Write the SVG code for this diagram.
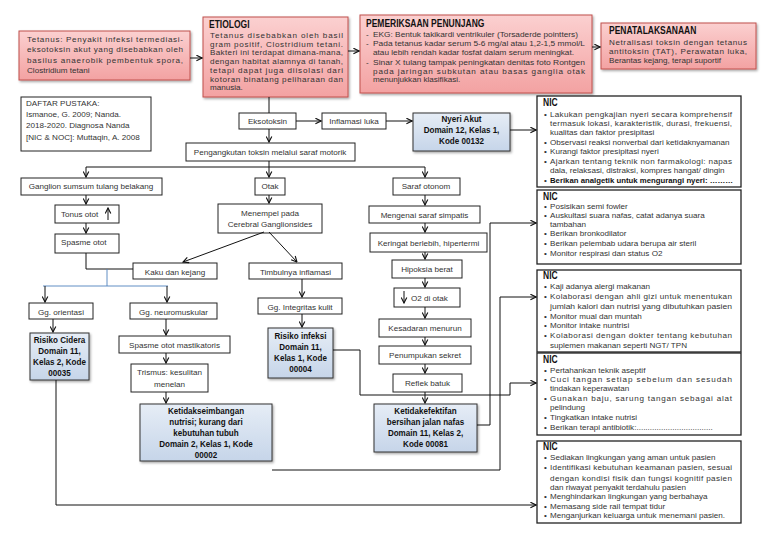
<svg xmlns="http://www.w3.org/2000/svg" width="768" height="543" viewBox="0 0 768 543">
<defs>
<linearGradient id="pk" x1="0" y1="0" x2="0" y2="1"><stop offset="0" stop-color="#fbd0d0"/><stop offset="1" stop-color="#f3a2a2"/></linearGradient>
<linearGradient id="bl" x1="0" y1="0" x2="0" y2="1"><stop offset="0" stop-color="#e6edf6"/><stop offset="1" stop-color="#c6d5e9"/></linearGradient>
<filter id="sh" x="-10%" y="-10%" width="125%" height="130%"><feDropShadow dx="1.2" dy="1.5" stdDeviation="1" flood-color="#000" flood-opacity="0.35"/></filter>
<marker id="a" viewBox="0 0 10 10" refX="9" refY="5" markerWidth="7" markerHeight="7" orient="auto" markerUnits="userSpaceOnUse"><path d="M1,1 L9,5 L1,9" fill="none" stroke="#111" stroke-width="1.6"/></marker>
</defs>
<style>
text{font-family:"Liberation Sans",Arial,sans-serif;fill:#333;font-size:8.1px}
.c{text-anchor:middle}
.h{font-weight:bold;font-size:10px;fill:#111}
.b{font-weight:bold;font-size:9.6px;fill:#111;text-anchor:middle}
.pk{fill:url(#pk);stroke:#c0504d;stroke-width:1;filter:url(#sh)}
.bx{fill:url(#bl);stroke:#333;stroke-width:1;filter:url(#sh)}
.w{fill:#fff;stroke:#222;stroke-width:1}
.n{fill:#fff;stroke:#222;stroke-width:1.3}
.ln{fill:none;stroke:#111;stroke-width:1}
.ar{fill:none;stroke:#111;stroke-width:1;marker-end:url(#a)}
.blu{fill:none;stroke:#4f81bd;stroke-width:0.9}
</style>
<rect width="768" height="543" fill="#fff"/>

<g id="tetanus">
<rect class="pk" x="19" y="31" width="171" height="49"/>
<text x="27" y="41.5" textLength="156" lengthAdjust="spacing">Tetanus: Penyakit infeksi termediasi-</text>
<text x="27" y="52" textLength="156" lengthAdjust="spacing">eksotoksin akut yang disebabkan oleh</text>
<text x="27" y="62.5" textLength="156" lengthAdjust="spacing">basilus anaerobik pembentuk spora,</text>
<text x="27" y="73">Clostridium tetani</text>
</g>

<g id="etiologi">
<rect class="pk" x="203" y="17" width="145" height="80"/>
<text class="h" transform="translate(209,28) scale(0.85,1)">ETIOLOGI</text>
<text x="210" y="38" textLength="133" lengthAdjust="spacing">Tetanus disebabkan oleh basil</text>
<text x="210" y="46.7" textLength="133" lengthAdjust="spacing">gram positif, Clostridium tetani.</text>
<text x="210" y="55.4" textLength="133" lengthAdjust="spacing">Bakteri ini terdapat dimana-mana,</text>
<text x="210" y="64.1" textLength="133" lengthAdjust="spacing">dengan habitat alamnya di tanah,</text>
<text x="210" y="72.8" textLength="133" lengthAdjust="spacing">tetapi dapat juga diisolasi dari</text>
<text x="210" y="81.5" textLength="133" lengthAdjust="spacing">kotoran binatang peliharaan dan</text>
<text x="210" y="90.2">manusia.</text>
</g>

<g id="pemeriksaan">
<rect class="pk" x="360" y="15" width="232" height="78"/>
<text class="h" transform="translate(366,27) scale(0.85,1)">PEMERIKSAAN PENUNJANG</text>
<text x="366" y="36.5">-</text>
<text x="373" y="36.5" textLength="205" lengthAdjust="spacingAndGlyphs">EKG: Bentuk takikardi ventrikuler (Torsaderde pointters)</text>
<text x="366" y="46">-</text>
<text x="373" y="46" textLength="212" lengthAdjust="spacingAndGlyphs">Pada tetanus kadar serum 5-6 mg/al atau 1,2-1,5 mmol/L</text>
<text x="373" y="54.5" textLength="201" lengthAdjust="spacingAndGlyphs">atau lebih rendah kadar fosfat dalam serum meningkat.</text>
<text x="366" y="65">-</text>
<text x="373" y="65" textLength="212" lengthAdjust="spacingAndGlyphs">Sinar X tulang tampak peningkatan denitas foto Rontgen</text>
<text x="373" y="73.5" textLength="212" lengthAdjust="spacing">pada jaringan subkutan atau basas ganglia otak</text>
<text x="373" y="82">menunjukkan klasifikasi.</text>
</g>

<g id="penatalaksanaan">
<rect class="pk" x="601" y="23" width="155" height="46"/>
<text class="h" transform="translate(609,34) scale(0.85,1)">PENATALAKSANAAN</text>
<text x="609" y="45" textLength="138" lengthAdjust="spacing">Netralisasi toksin dengan tetanus</text>
<text x="609" y="54" textLength="138" lengthAdjust="spacing">antitoksin (TAT), Perawatan luka,</text>
<text x="609" y="63">Berantas kejang, terapi suportif</text>
</g>

<g id="pustaka">
<rect class="w" x="21" y="97" width="130" height="54"/>
<text x="26" y="106">DAFTAR PUSTAKA:</text>
<text x="26" y="117">Ismanoe, G. 2009; Nanda.</text>
<text x="26" y="128">2018-2020. Diagnosa Nanda</text>
<text x="26" y="140">[NIC &amp; NOC]: Muttaqin, A. 2008</text>
</g>

<g id="eksotoksin"><rect class="w" x="239" y="113" width="57" height="16"/><text class="c" x="267.5" y="124">Eksotoksin</text></g>
<g id="inflamasi-luka"><rect class="w" x="322" y="113" width="64" height="16"/><text class="c" x="354" y="124">Inflamasi luka</text></g>
<g id="nyeri-akut"><rect class="bx" x="413" y="113" width="97" height="38"/>
<g transform="translate(461.5,0) scale(0.84,1)"><text class="b" x="0" y="122">Nyeri Akut</text><text class="b" x="0" y="133">Domain 12, Kelas 1,</text><text class="b" x="0" y="144">Kode 00132</text></g></g>
<g id="pengangkutan"><rect class="w" x="186" y="143" width="169" height="18"/><text class="c" x="270" y="155">Pengangkutan toksin melalui saraf motorik</text></g>

<g id="ganglion"><rect class="w" x="21" y="178" width="141" height="17"/><text class="c" x="91" y="189">Ganglion sumsum tulang belakang</text></g>
<g id="otak"><rect class="w" x="255" y="178" width="30" height="17"/><text class="c" x="270" y="189">Otak</text></g>
<g id="saraf-otonom"><rect class="w" x="393" y="178" width="67" height="17"/><text class="c" x="426" y="189">Saraf otonom</text></g>

<g id="tonus"><rect class="w" x="55" y="205" width="64" height="18"/><text x="61" y="216.5">Tonus otot</text><path class="ar" d="M108,220 L108,208"/></g>
<g id="spasme"><rect class="w" x="55" y="234" width="64" height="19"/><text x="61" y="244.5">Spasme otot</text></g>
<g id="menempel"><rect class="w" x="218" y="204" width="104" height="29"/><text class="c" x="270" y="215.5">Menempel pada</text><text class="c" x="270" y="227">Cerebral Ganglionsides</text></g>
<g id="kaku"><rect class="w" x="133" y="263" width="84" height="16"/><text class="c" x="175" y="274.5">Kaku dan kejang</text></g>
<g id="timbul"><rect class="w" x="249" y="263" width="93" height="16"/><text class="c" x="295.5" y="274.5">Timbulnya inflamasi</text></g>
<g id="gg-orientasi"><rect class="w" x="29" y="303" width="64" height="16"/><text class="c" x="61" y="314.5">Gg. orientasi</text></g>
<g id="gg-neuro"><rect class="w" x="130" y="303" width="87" height="16"/><text class="c" x="173.5" y="314.5">Gg. neuromuskular</text></g>
<g id="gg-integritas"><rect class="w" x="258" y="298" width="84" height="16"/><text class="c" x="300" y="309.5">Gg. Integritas kulit</text></g>

<g id="mengenai"><rect class="w" x="369" y="206" width="111" height="17"/><text class="c" x="424.5" y="217.5">Mengenai saraf simpatis</text></g>
<g id="keringat"><rect class="w" x="370" y="233" width="117" height="19"/><text class="c" x="428.5" y="245.5">Keringat berlebih, hipertermi</text></g>
<g id="hipoksia"><rect class="w" x="392" y="260" width="70" height="18"/><text class="c" x="427" y="272">Hipoksia berat</text></g>
<g id="o2"><rect class="w" x="394" y="288" width="66" height="19"/><path class="ar" d="M404,291 L404,303"/><text x="411" y="301">O2 di otak</text></g>
<g id="kesadaran"><rect class="w" x="379" y="319" width="92" height="18"/><text class="c" x="425" y="331">Kesadaran menurun</text></g>
<g id="penumpukan"><rect class="w" x="379" y="346" width="92" height="18"/><text class="c" x="425" y="358">Penumpukan sekret</text></g>
<g id="refleks"><rect class="w" x="393" y="374" width="69" height="18"/><text class="c" x="427.5" y="386">Reflek batuk</text></g>
<g id="ketidakefektifan"><rect class="bx" x="374" y="404" width="103" height="48"/>
<g transform="translate(425.5,0) scale(0.84,1)"><text class="b" x="0" y="414">Ketidakefektifan</text><text class="b" x="0" y="425">bersihan jalan nafas</text><text class="b" x="0" y="436">Domain 11, Kelas 2,</text><text class="b" x="0" y="447">Kode 00081</text></g></g>

<g id="risiko-cidera"><rect class="bx" x="30" y="333" width="59" height="47"/>
<g transform="translate(59.5,0) scale(0.84,1)"><text class="b" x="0" y="343">Risiko Cidera</text><text class="b" x="0" y="354">Domain 11,</text><text class="b" x="0" y="365">Kelas 2, Kode</text><text class="b" x="0" y="376">00035</text></g></g>
<g id="spasme-mastikatoris"><rect class="w" x="119" y="336" width="111" height="17"/><text class="c" x="174.5" y="347.5">Spasme otot mastikatoris</text></g>
<g id="trismus"><rect class="w" x="131" y="364" width="77" height="28"/><text class="c" x="169.5" y="375">Trismus: kesulitan</text><text class="c" x="169.5" y="387">menelan</text></g>
<g id="ketidakseimbangan"><rect class="bx" x="140" y="404" width="132" height="57"/>
<g transform="translate(206,0) scale(0.84,1)"><text class="b" x="0" y="414">Ketidakseimbangan</text><text class="b" x="0" y="425">nutrisi; kurang dari</text><text class="b" x="0" y="436">kebutuhan tubuh</text><text class="b" x="0" y="447">Domain 2, Kelas 1, Kode</text><text class="b" x="0" y="458">00002</text></g></g>
<g id="risiko-infeksi"><rect class="bx" x="268" y="328" width="65" height="50"/>
<g transform="translate(300.5,0) scale(0.84,1)"><text class="b" x="0" y="339">Risiko infeksi</text><text class="b" x="0" y="350">Domain 11,</text><text class="b" x="0" y="361">Kelas 1, Kode</text><text class="b" x="0" y="372">00004</text></g></g>

<g id="nic1"><rect class="n" x="537" y="96" width="204" height="91"/>
<text class="h" transform="translate(543,105.5) scale(0.85,1)">NIC</text>
<text x="544" y="116.5">•</text><text x="550" y="116.5" textLength="182" lengthAdjust="spacing">Lakukan pengkajian nyeri secara komprehensif</text>
<text x="550" y="125.5" textLength="182" lengthAdjust="spacing">termasuk lokasi, karakteristik, durasi, frekuensi,</text>
<text x="550" y="134.5">kualitas dan faktor presipitasi</text>
<text x="544" y="144.5">•</text><text x="550" y="144.5">Observasi reaksi nonverbal dari ketidaknyamanan</text>
<text x="544" y="153.5">•</text><text x="550" y="153.5">Kurangi faktor presipitasi nyeri</text>
<text x="544" y="163.5">•</text><text x="550" y="163.5" textLength="182" lengthAdjust="spacing">Ajarkan tentang teknik non farmakologi: napas</text>
<text x="550" y="172.5">dala, relaksasi, distraksi, kompres hangat/ dingin</text>
<text x="544" y="182.5">•</text><text x="550" y="182.5" style="font-weight:bold;fill:#111" textLength="183" lengthAdjust="spacingAndGlyphs">Berikan analgetik untuk mengurangi nyeri: ………</text>
</g>

<g id="nic2"><rect class="n" x="537" y="190" width="204" height="74"/>
<text class="h" transform="translate(543,199.5) scale(0.85,1)">NIC</text>
<text x="544" y="208.5">•</text><text x="550" y="208.5">Posisikan semi fowler</text>
<text x="544" y="217.5">•</text><text x="550" y="217.5">Auskultasi suara nafas, catat adanya suara</text>
<text x="550" y="226.5">tambahan</text>
<text x="544" y="236">•</text><text x="550" y="236">Berikan bronkodilator</text>
<text x="544" y="245.5">•</text><text x="550" y="245.5">Berikan pelembab udara berupa air steril</text>
<text x="544" y="255.5">•</text><text x="550" y="255.5">Monitor respirasi dan status O2</text>
</g>

<g id="nic3"><rect class="n" x="537" y="270" width="204" height="82"/>
<text class="h" transform="translate(543,279) scale(0.85,1)">NIC</text>
<text x="544" y="289">•</text><text x="550" y="289">Kaji adanya alergi makanan</text>
<text x="544" y="298.5">•</text><text x="550" y="298.5" textLength="182" lengthAdjust="spacing">Kolaborasi dengan ahli gizi untuk menentukan</text>
<text x="550" y="309" textLength="182" lengthAdjust="spacingAndGlyphs">jumlah kalori dan nutrisi yang dibutuhkan pasien</text>
<text x="544" y="318.5">•</text><text x="550" y="318.5">Monitor mual dan muntah</text>
<text x="544" y="328">•</text><text x="550" y="328">Monitor intake nuntrisi</text>
<text x="544" y="338">•</text><text x="550" y="338" textLength="182" lengthAdjust="spacing">Kolaborasi dengan dokter tentang kebutuhan</text>
<text x="550" y="347.5">suplemen makanan seperti NGT/ TPN</text>
</g>

<g id="nic4"><rect class="n" x="537" y="353" width="204" height="82"/>
<text class="h" transform="translate(543,362.5) scale(0.85,1)">NIC</text>
<text x="544" y="372.5">•</text><text x="550" y="372.5">Pertahankan teknik aseptif</text>
<text x="544" y="381.5">•</text><text x="550" y="381.5" textLength="182" lengthAdjust="spacing">Cuci tangan setiap sebelum dan sesudah</text>
<text x="550" y="391">tindakan keperawatan</text>
<text x="544" y="400.5">•</text><text x="550" y="400.5" textLength="182" lengthAdjust="spacing">Gunakan baju, sarung tangan sebagai alat</text>
<text x="550" y="410">pelindung</text>
<text x="544" y="419.5">•</text><text x="550" y="419.5">Tingkatkan intake nutrisi</text>
<text x="544" y="429.5">•</text><text x="550" y="429.5">Berikan terapi antibiotik:..................................</text>
</g>

<g id="nic5"><rect class="n" x="537" y="441" width="204" height="82"/>
<text class="h" transform="translate(543,449.5) scale(0.85,1)">NIC</text>
<text x="544" y="460">•</text><text x="550" y="460">Sediakan lingkungan yang aman untuk pasien</text>
<text x="544" y="469.5">•</text><text x="550" y="469.5" textLength="182" lengthAdjust="spacing">Identifikasi kebutuhan keamanan pasien, sesuai</text>
<text x="550" y="481" textLength="182" lengthAdjust="spacing">dengan kondisi fisik dan fungsi kognitif pasien</text>
<text x="550" y="490">dan riwayat penyakit terdahulu pasien</text>
<text x="544" y="499">•</text><text x="550" y="499">Menghindarkan lingkungan yang berbahaya</text>
<text x="544" y="508.5">•</text><text x="550" y="508.5">Memasang side rail tempat tidur</text>
<text x="544" y="518">•</text><text x="550" y="518">Menganjurkan keluarga untuk menemani pasien.</text>
</g>

<g id="connectors">
<path class="ar" d="M190,58 L202,58"/>
<path class="ar" d="M348,51 L359,51"/>
<path class="ar" d="M592,47 L600,47"/>
<path class="ln" d="M269,97 L269,113"/>
<path class="ar" d="M296,121 L321,121"/>
<path class="ar" d="M386,121 L412,121"/>
<path class="ar" d="M510,130 L536,130"/>
<path class="ar" d="M269,129 L269,142"/>
<path class="ln" d="M269,161 L269,167 M86,167 L425,167"/>
<path class="ar" d="M86,167 L86,177"/>
<path class="ar" d="M269,167 L269,177"/>
<path class="ar" d="M425,167 L425,177"/>
<path class="ar" d="M86,195 L86,204"/>
<path class="ar" d="M86,223 L86,233"/>
<path class="ln" d="M86,253 L86,269 L133,269"/>
<path class="blu" d="M107,269 L107,286 M43,286 L168,286"/>
<path class="ar" d="M45,286 L45,302"/>
<path class="ar" d="M167,286 L167,302"/>
<path class="ar" d="M269,195 L269,203"/>
<path class="ar" d="M264,232 L183,262"/>
<path class="ar" d="M269,232 L297,262"/>
<path class="ar" d="M302,279 L302,297"/>
<path class="ar" d="M302,314 L302,327"/>
<path class="ar" d="M53,319 L53,332"/>
<path class="ar" d="M166,319 L166,335"/>
<path class="ar" d="M166,353 L166,363"/>
<path class="ar" d="M166,392 L166,403"/>
<path class="ar" d="M425,195 L425,205"/>
<path class="ar" d="M425,223 L425,232"/>
<path class="ar" d="M425,252 L425,259"/>
<path class="ar" d="M425,278 L425,287"/>
<path class="ar" d="M425,307 L425,318"/>
<path class="ar" d="M425,337 L425,345"/>
<path class="ar" d="M425,364 L425,373"/>
<path class="ar" d="M425,392 L425,403"/>
<path class="ar" d="M477,425 L490,425 L490,223 L536,223"/>
<path class="ar" d="M272,470 L500,470 L500,297 L536,297"/>
<path class="ar" d="M333,350 L360,350 L360,395 L510,395 L510,383 L536,383"/>
<path class="ar" d="M56,380 L56,505 L536,505"/>
</g>
</svg>
